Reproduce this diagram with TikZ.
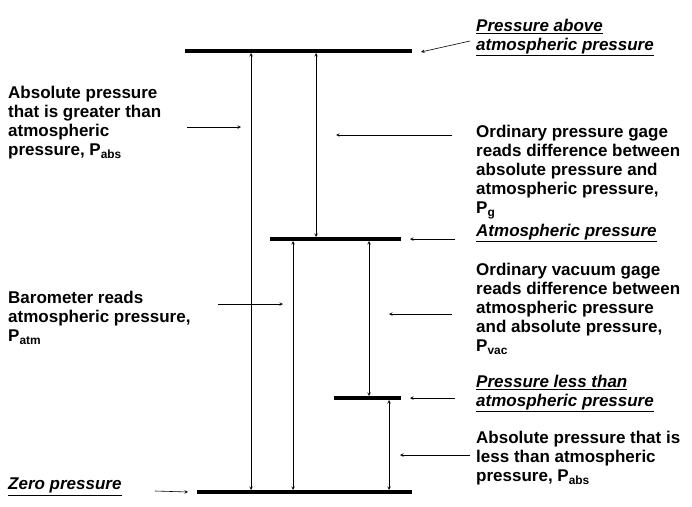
\documentclass[tikz,border=0pt]{standalone}
\usepackage{fontspec}
\setmainfont{Liberation Sans}
\begin{document}
\begin{tikzpicture}[x=1pt,y=-1pt,
  lvl/.style={line width=4pt},
  dbl/.style={<->,>=stealth,line width=0.6pt},
  ptr/.style={->,>=stealth,line width=0.6pt},
  txt/.style={anchor=north west,inner sep=0pt,align=left,font=\fontsize{17}{19}\selectfont\bfseries},
  ttl/.style={txt,font=\fontsize{17}{19}\selectfont\bfseries\itshape}]
\useasboundingbox (0,0) rectangle (692,506);
\coordinate (t1) at (185,51); \coordinate (t2) at (412,51);
\coordinate (a1) at (270,239); \coordinate (a2) at (401,239);
\coordinate (l1) at (334,398); \coordinate (l2) at (401,398);
\coordinate (z1) at (197,492); \coordinate (z2) at (412,492);
\draw[lvl] (t1) -- (t2);
\draw[lvl] (a1) -- (a2);
\draw[lvl] (l1) -- (l2);
\draw[lvl] (z1) -- (z2);
\draw[dbl] (251,53) -- (251,490);
\draw[dbl] (316,53) -- (316,237);
\draw[dbl] (293,241) -- (293,490);
\draw[dbl] (369,241) -- (369,396);
\draw[dbl] (389,400) -- (389,490);
\node[txt] (L1) at (8,86) {Absolute pressure\\that is greater than\\atmospheric\\pressure, P\textsubscript{abs}};
\node[txt] (L2) at (8,291) {Barometer reads\\atmospheric pressure,\\P\textsubscript{atm}};
\node[ttl] (Z) at (8,478) {\underline{Zero pressure}};
\node[ttl] (R1) at (476,19) {\underline{Pressure above}\\\underline{atmospheric pressure}};
\node[txt] (R2) at (476,125) {Ordinary pressure gage\\reads difference between\\absolute pressure and\\atmospheric pressure,\\P\textsubscript{g}};
\node[ttl] (R3) at (476,224) {\underline{Atmospheric pressure}};
\node[txt] (R4) at (476,263) {Ordinary vacuum gage\\reads difference between\\atmospheric pressure\\and absolute pressure,\\P\textsubscript{vac}};
\node[ttl] (R5) at (476,375) {\underline{Pressure less than}\\\underline{atmospheric pressure}};
\node[txt] (R6) at (476,431) {Absolute pressure that is\\less than atmospheric\\pressure, P\textsubscript{abs}};
\coordinate (p1) at (187,127); \draw[ptr] (p1) -- (241,127);
\coordinate (p2) at (470,41); \draw[ptr] (p2) -- (421,52);
\coordinate (p3) at (452,135); \draw[ptr] (p3) -- (336,135);
\coordinate (p4) at (455,239); \draw[ptr] (p4) -- (410,239);
\coordinate (p5) at (218,304); \draw[ptr] (p5) -- (283,304);
\coordinate (p6) at (452,314); \draw[ptr] (p6) -- (389,314);
\coordinate (p7) at (455,398); \draw[ptr] (p7) -- (410,398);
\coordinate (p8) at (470,455); \draw[ptr] (p8) -- (400,455);
\coordinate (p9) at (155,491); \draw[ptr] (p9) -- (188,492);
\end{tikzpicture}
\end{document}
